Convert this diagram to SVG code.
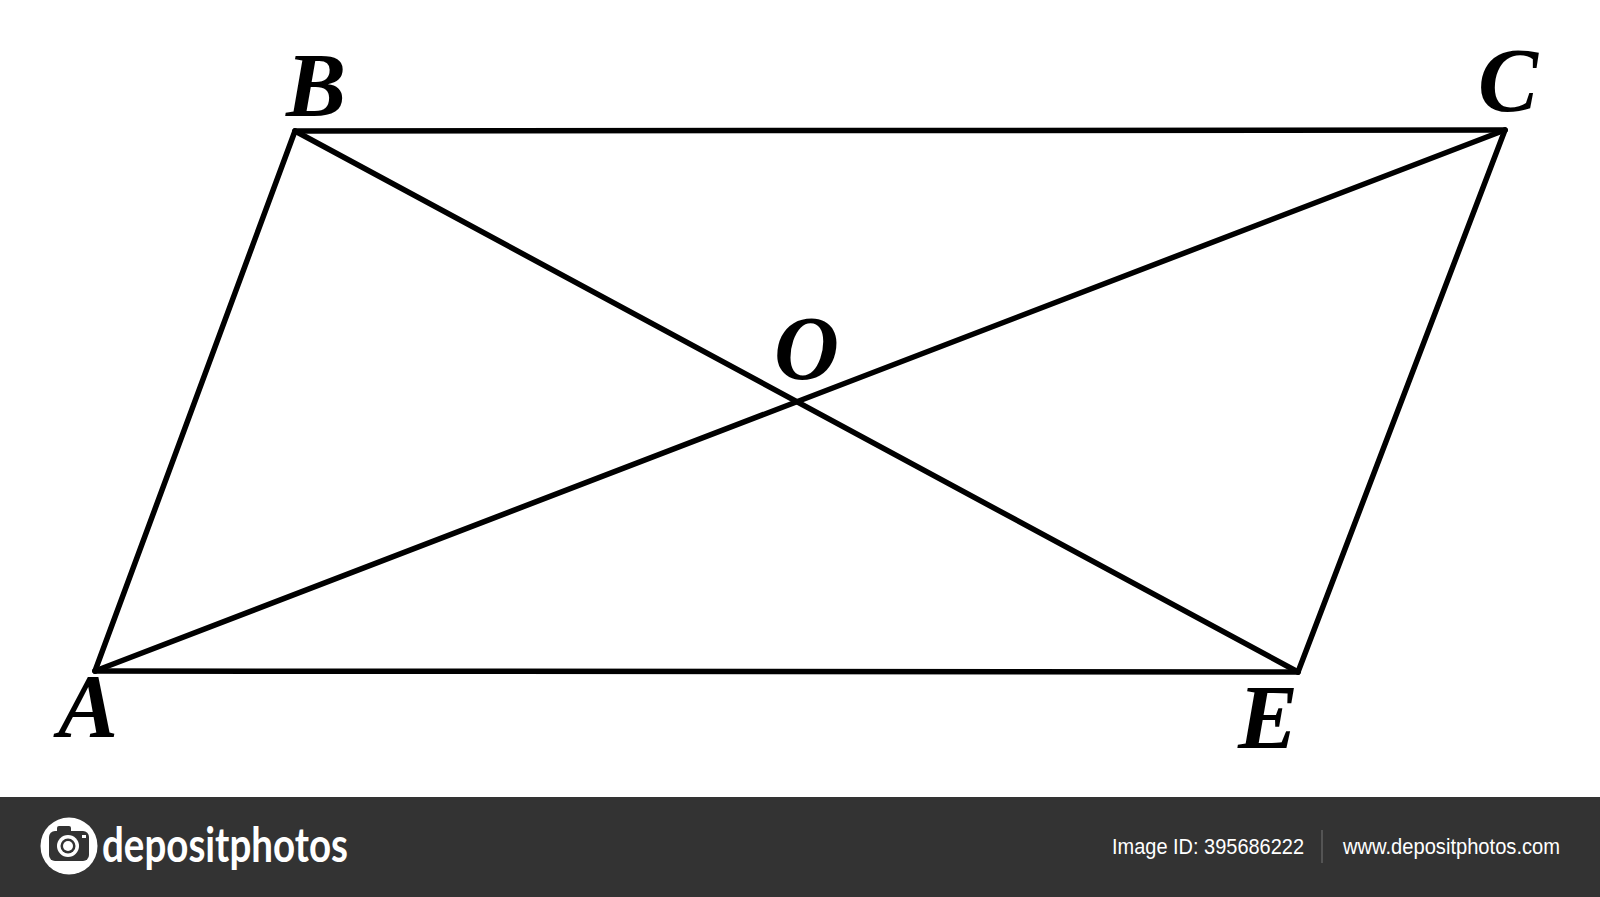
<svg xmlns="http://www.w3.org/2000/svg" width="1600" height="897" viewBox="0 0 1600 897">
<style>
.edge{stroke:#000;stroke-width:5.5;fill:none;stroke-linecap:round;stroke-linejoin:round}
.lbl{font-family:"Liberation Serif","Times New Roman",serif;font-weight:bold;font-style:italic;font-size:90px;fill:#000}
.ft{font-family:"Liberation Sans",Arial,sans-serif;font-size:22px;fill:#fff}
</style>
<rect x="0" y="0" width="1600" height="897" fill="#fff"/>
<g id="connectors">
<line class="edge" x1="295" y1="131" x2="1505" y2="130"/>
<line class="edge" x1="95" y1="671" x2="1298" y2="672"/>
<line class="edge" x1="95" y1="671" x2="295" y2="131"/>
<line class="edge" x1="1298" y1="672" x2="1505" y2="130"/>
<line class="edge" x1="295" y1="131" x2="1298" y2="672"/>
<line class="edge" x1="95" y1="671" x2="1505" y2="130"/>
</g>
<g id="node-A"><text class="lbl" x="58" y="737">A</text></g>
<g id="node-B"><text class="lbl" x="286" y="116">B</text></g>
<g id="node-C"><text class="lbl" x="1478" y="111">C</text></g>
<g id="node-E"><text class="lbl" x="1238" y="748">E</text></g>
<g id="node-O"><text class="lbl" x="774" y="379">O</text></g>
<g id="footer">
<rect x="0" y="797" width="1600" height="100" fill="#333"/>
<circle cx="69" cy="846" r="28.5" fill="#fff"/>
<rect x="49" y="831" width="40" height="30" rx="6" fill="#333"/>
<rect x="57" y="826" width="14" height="7" rx="2" fill="#333"/>
<circle cx="68" cy="846" r="11" fill="#fff"/>
<circle cx="68" cy="846" r="7.5" fill="#333"/>
<circle cx="68" cy="846" r="5" fill="#fff"/>
<rect x="82" y="835" width="4" height="3" fill="#fff"/>
<text x="102" y="862" font-family="Lato,'Open Sans',sans-serif" font-weight="bold" font-size="47" fill="#fff" textLength="246" lengthAdjust="spacingAndGlyphs">depositphotos</text>
<text class="ft" x="1112" y="854" textLength="192" lengthAdjust="spacingAndGlyphs">Image ID: 395686222</text>
<line x1="1322" y1="830" x2="1322" y2="863" stroke="#777" stroke-width="1"/>
<text class="ft" x="1343" y="854" textLength="217" lengthAdjust="spacingAndGlyphs">www.depositphotos.com</text>
</g>
</svg>
